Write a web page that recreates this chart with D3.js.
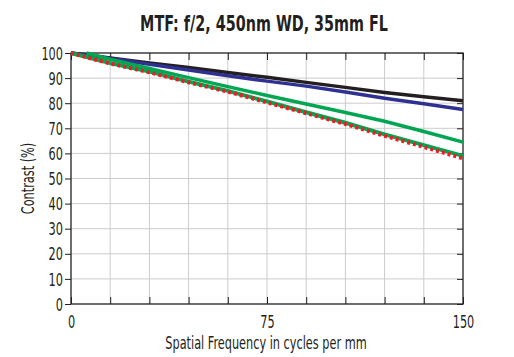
<!DOCTYPE html>
<html><head><meta charset="utf-8">
<script src="https://cdn.jsdelivr.net/npm/d3@7"></script>
<style>
html,body{margin:0;padding:0;background:#fff;}
text{font-family:"DejaVu Sans Condensed","DejaVu Sans",sans-serif;fill:#231f20;}
</style></head>
<body>
<svg id="chart" width="514" height="357"></svg>
<script>
const title = "MTF: f/2, 450nm WD, 35mm FL";
const xLabel = "Spatial Frequency in cycles per mm";
const yLabel = "Contrast (%)";
const xTickLabels = [0, 75, 150];
const xGridTicks = [0, 15, 30, 45, 60, 75, 90, 105, 120, 135, 150];
const yTicks = [0, 10, 20, 30, 40, 50, 60, 70, 80, 90, 100];

const freqs = [0, 15, 30, 45, 60, 75, 90, 105, 120, 135, 150];
const blackVals = [100, 98.0, 96.0, 94.2, 92.2, 90.3, 88.3, 86.3, 84.3, 82.6, 81.0];
const blueVals  = [100, 97.8, 95.5, 93.2, 90.9, 88.8, 86.8, 84.5, 82.0, 79.8, 77.5];
const greenFreqs = [6, 15, 30, 45, 60, 75, 90, 105, 120, 135, 150];
const greenVals = [100, 97.5, 93.8, 90.2, 86.6, 83.1, 79.7, 76.3, 72.8, 68.7, 64.5];
const greenDotVals = [100, 96.0, 92.6, 88.6, 84.9, 80.7, 76.4, 72.2, 67.6, 63.3, 59.0];
const redDotVals   = [100, 95.8, 92.3, 88.3, 84.6, 80.3, 76.0, 71.7, 67.0, 62.6, 58.0];

const SX = 0.74;
const svg = d3.select("#chart");
const L = 71, R = 463, T = 53, B = 304;
const x = d3.scaleLinear().domain([0,150]).range([L,R]);
const y = d3.scaleLinear().domain([0,100]).range([B,T]);

// gridlines
svg.append("g").selectAll("line").data(xGridTicks.slice(1,-1)).join("line")
  .attr("x1", d=>x(d)).attr("x2", d=>x(d)).attr("y1", T).attr("y2", B)
  .attr("stroke", "#cccccc").attr("stroke-width", 1);
svg.append("g").selectAll("line").data(yTicks.slice(1,-1)).join("line")
  .attr("x1", L).attr("x2", R).attr("y1", d=>y(d)).attr("y2", d=>y(d))
  .attr("stroke", "#cccccc").attr("stroke-width", 1);

// frame
svg.append("rect").attr("x", L).attr("y", T).attr("width", R-L).attr("height", B-T)
  .attr("fill","none").attr("stroke","#231f20").attr("stroke-width",1.3);

// left axis with labels
const yAxis = d3.axisLeft(y).tickValues(yTicks).tickSize(6).tickPadding(0);
const gy = svg.append("g").attr("transform", `translate(${L},0)`).call(yAxis);
gy.select(".domain").remove();
gy.selectAll("line").attr("stroke","#231f20").attr("stroke-width",1);
gy.selectAll("text").attr("font-size", 17).attr("fill","#231f20")
  .attr("x", -8/SX).attr("dy","0.36em").attr("transform", `scale(${SX},1)`);

const yAxisR = d3.axisLeft(y).tickValues(yTicks).tickSize(6).tickFormat("");
const gyr = svg.append("g").attr("transform", `translate(${R},0)`).call(yAxisR);
gyr.select(".domain").remove();
gyr.selectAll("line").attr("stroke","#231f20");

const xAxisB = d3.axisTop(x).tickValues(xGridTicks).tickSize(7).tickFormat("");
const gxb = svg.append("g").attr("transform", `translate(0,${B})`).call(xAxisB);
gxb.select(".domain").remove();
gxb.selectAll("line").attr("stroke","#231f20");

const xAxisT = d3.axisBottom(x).tickValues(xGridTicks).tickSize(7).tickFormat("");
const gxt = svg.append("g").attr("transform", `translate(0,${T})`).call(xAxisT);
gxt.select(".domain").remove();
gxt.selectAll("line").attr("stroke","#231f20");

const xAxisLab = d3.axisBottom(x).tickValues(xTickLabels).tickSize(0).tickPadding(0);
const gxl = svg.append("g").attr("transform", `translate(0,${B})`).call(xAxisLab);
gxl.select(".domain").remove();
gxl.selectAll("text").attr("font-size", 17).attr("fill","#231f20")
  .attr("y", 24).attr("dy", 0).attr("transform", `scale(${SX},1)`);

// lines
const line = d3.line().x(d=>x(d[0])).y(d=>y(d[1]));
const zip = (a,b)=>a.map((v,i)=>[v,b[i]]);
const plot = svg.append("g");
plot.append("path").datum(zip(freqs, blackVals)).attr("d", line)
  .attr("fill","none").attr("stroke","#231f20").attr("stroke-width",3.5);
plot.append("path").datum(zip(freqs, blueVals)).attr("d", line)
  .attr("fill","none").attr("stroke","#2e3192").attr("stroke-width",3.5);
plot.append("path").datum(zip(greenFreqs, greenVals)).attr("d", line)
  .attr("fill","none").attr("stroke","#00a651").attr("stroke-width",3.5);
plot.append("path").datum(zip(freqs, greenDotVals)).attr("d", line)
  .attr("fill","none").attr("stroke","#00a651").attr("stroke-width",4);
plot.append("path").datum(zip(freqs, redDotVals)).attr("d", line)
  .attr("fill","none").attr("stroke","#ed1c24").attr("stroke-width",4)
  .attr("stroke-dasharray","3,3");

// titles
svg.append("text").attr("transform", `translate(264,31) scale(0.76,1)`).attr("text-anchor","middle")
  .attr("font-size", 21).attr("font-weight","bold").text(title);
svg.append("text").attr("transform", `translate(266,349) scale(${SX},1)`).attr("text-anchor","middle")
  .attr("font-size", 17).text(xLabel);
svg.append("text").attr("transform", `translate(34,${(T+B)/2}) rotate(-90) scale(${SX},1)`)
  .attr("text-anchor","middle").attr("font-size", 17).text(yLabel);
</script>
</body></html>
